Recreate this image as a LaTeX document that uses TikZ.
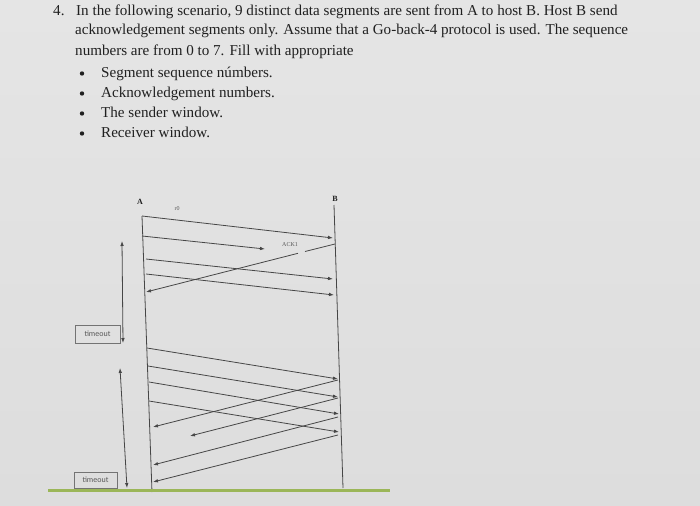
\documentclass[tikz,border=0pt]{standalone}
\usepackage{fontspec}
\setmainfont{Liberation Serif}
\newfontfamily\boxfont{Carlito}
\usetikzlibrary{arrows.meta,calc,positioning}
\definecolor{paper}{RGB}{229,229,229}
\definecolor{paperlow}{RGB}{221,221,221}
\definecolor{ink}{RGB}{32,32,32}
\definecolor{penline}{RGB}{70,70,70}
\definecolor{groundgreen}{RGB}{155,182,88}
\tikzset{
  headarrow/.style = {-{Latex[length=5pt,width=3.6pt]}},
  msgline/.style = {headarrow, draw=penline, line width=.8pt},
  timerline/.style = {{Latex[length=5pt,width=3.6pt]}-{Latex[length=5pt,width=3.6pt]}, draw=penline, line width=.8pt},
  lifeline/.style = {draw=penline, line width=.8pt},
  qline/.style = {anchor=base west, inner sep=0pt, text=ink, font=\fontsize{15.1}{18}\selectfont},
  bulletdot/.style = {circle, fill=ink, inner sep=0pt, minimum size=4.4pt},
  hostlabel/.style = {inner sep=0pt, text=ink, font=\fontsize{8}{9}\selectfont\bfseries},
  tinylabel/.style = {inner sep=0pt, text=black!65, font=\fontsize{6}{7}\selectfont},
  timeoutbox/.style = {draw=black!55, line width=.9pt, inner sep=0pt, text=black!65,
    font=\boxfont\fontsize{8}{9}\selectfont},
}

\begin{document}
\begin{tikzpicture}[x=1pt,y=-1pt]
    \useasboundingbox (0,0) rectangle (700,505);
    \shade[top color=paper, bottom color=paperlow] (0,0) rectangle (700,505);

    % question text
    \node[qline] (num) at (53,16) {4.};
    \node[qline] (l1) at (76,16) {In the following scenario, 9 distinct data segments are sent from A to host B. Host B send};
    \node[qline] (l2) at (75,35) {acknowledgement segments only. Assume that a Go-back-4 protocol is used. The sequence};
    \node[qline] (l3) at (75,56) {numbers are from 0 to 7. Fill with appropriate};
    \foreach \y/\txt [count=\i] in {78/Segment sequence n\'umbers.,
                                    98/Acknowledgement numbers.,
                                    118/The sender window.,
                                    138/Receiver window.} {
        \node[bulletdot] (dot\i) at (82,\y-4.5) {};
        \node[qline] (item\i) at (101,\y) {\txt};
    }

    % hosts
    \node[hostlabel] (A) at (140,202) {A};
    \node[hostlabel] (B) at (335,199) {B};
    \coordinate (Atop) at (142,216);
    \coordinate (Abot) at (152,492);
    \coordinate (Btop) at (334,205);
    \coordinate (Bbot) at (343,488);
    \draw[lifeline] (Atop) -- (Abot);
    \draw[lifeline] (Btop) -- (Bbot);

    % first window
    \node[tinylabel] (r0) at (177,209) {r0};
    \node[tinylabel] (ack1) at (290,245) {ACK1};
    \foreach \m/\xa/\ya/\xb/\yb in {s1/142/216/333/238, s2/142/236/265/249,
                                    s3/146/259/333/279, s4/146/274/334/295} {
        \coordinate (\m-a) at (\xa,\ya);
        \coordinate (\m-b) at (\xb,\yb);
        \draw[msgline] (\m-a) -- (\m-b);
    }
    \coordinate (k1-a) at (335,244);
    \coordinate (k1-g) at (305,251.5);
    \coordinate (k1-h) at (298,253.3);
    \coordinate (k1-b) at (146,292);
    \draw[lifeline] (k1-a) -- (k1-g);
    \draw[msgline] (k1-h) -- (k1-b);

    % first timeout
    \coordinate (t1-a) at (122,241);
    \coordinate (t1-b) at (123,343);
    \draw[timerline] (t1-a) -- (t1-b);
    \node[timeoutbox, minimum width=45pt, minimum height=18pt] (to1) at (97.5,334) {timeout};

    % second window
    \foreach \m/\xa/\ya/\xb/\yb in {s5/147/348/338/379, s6/148/366/338/397,
                                    s7/149/382/339/414, s8/149/401/339/432,
                                    k5/338/380/153/427, k6/338/398/190/436,
                                    k7/338/417/153/465, k8/338/435/153/482} {
        \coordinate (\m-a) at (\xa,\ya);
        \coordinate (\m-b) at (\xb,\yb);
        \draw[msgline] (\m-a) -- (\m-b);
    }

    % second timeout
    \coordinate (t2-a) at (120,368);
    \coordinate (t2-b) at (127,488);
    \draw[timerline] (t2-a) -- (t2-b);
    \node[timeoutbox, minimum width=43pt, minimum height=16pt] (to2) at (95.5,480) {timeout};

    % ground line
    \coordinate (g-a) at (48,490);
    \coordinate (g-b) at (390,490);
    \draw[groundgreen, line width=3pt] (g-a) -- (g-b);
\end{tikzpicture}
\end{document}
